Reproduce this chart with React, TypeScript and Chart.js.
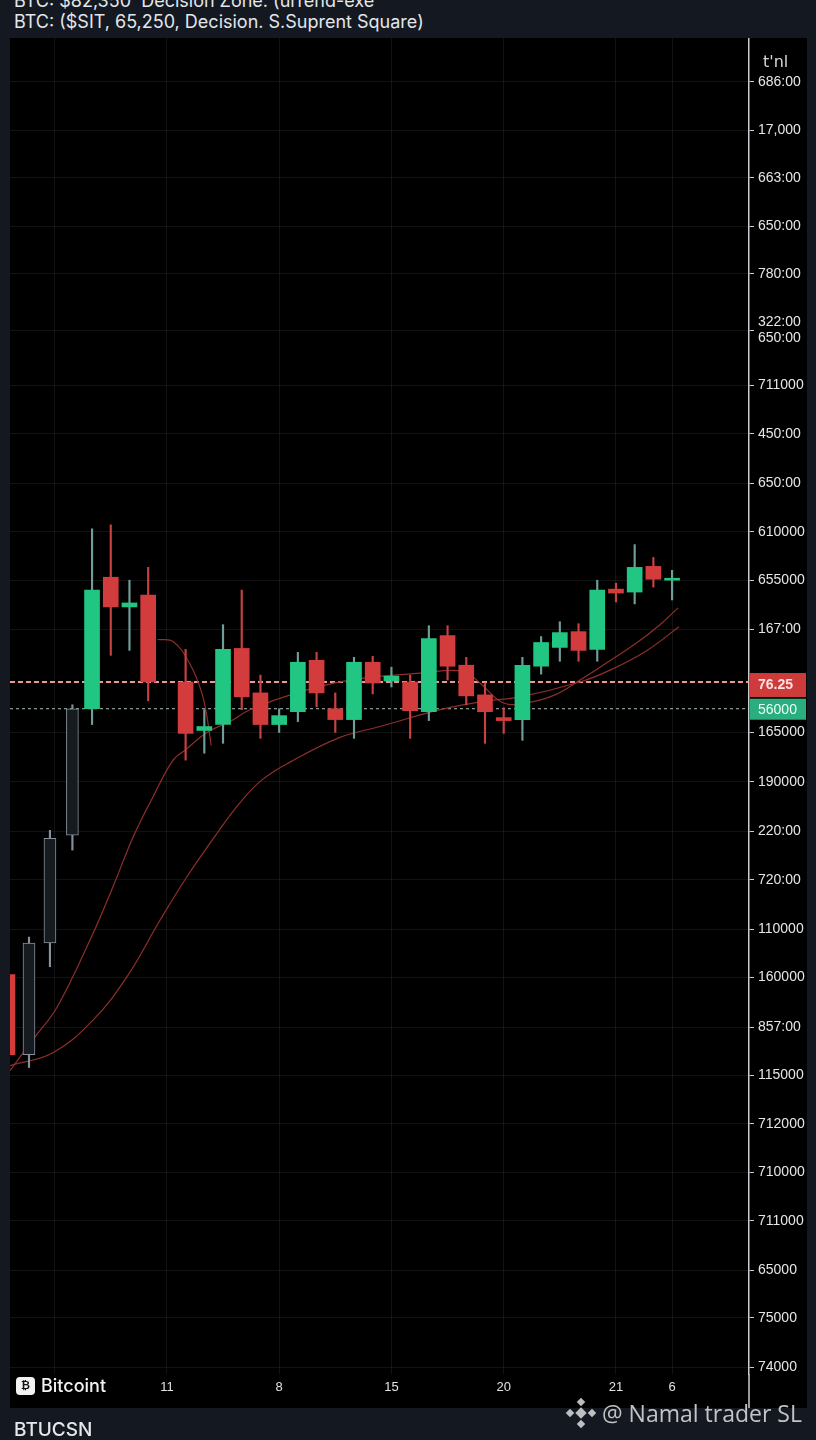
import React, { useEffect, useRef } from "react";
import { Chart, registerables } from "chart.js";

Chart.register(...registerables);

// ---- candle data (x = day slot, prices) ----
const candleSlots = [-0.52, 0.63, 1.75, 2.95, 4, 5, 6, 7, 9, 10, 11, 12, 13, 14, 15, 16, 17, 18, 19, 20, 21, 22, 23, 24, 25, 26, 27, 28, 29, 30, 31, 32, 33, 34, 35];
const opens = [55970, 55160, 56290, 57380, 58660, 59990, 59690, 59810, 58930, 58440, 58500, 59270, 58820, 58500, 58630, 59150, 58660, 58550, 59130, 58940, 58930, 58630, 59400, 59100, 58800, 58570, 58550, 59090, 59280, 59440, 59260, 59870, 59840, 60100, 59960];
const highs = [56000, 56350, 57430, 58700, 60480, 60520, 59960, 60090, 59260, 58650, 59510, 59860, 59000, 58660, 59230, 59230, 58820, 59180, 59190, 59080, 59000, 59500, 59500, 59180, 58920, 58670, 59180, 59390, 59540, 59520, 59960, 59930, 60320, 60190, 60060];
const lows = [55000, 55030, 56050, 57230, 58500, 59200, 59250, 58740, 58140, 58210, 58310, 58650, 58360, 58420, 58530, 58680, 58420, 58360, 58810, 58880, 58360, 58540, 58950, 58700, 58310, 58410, 58340, 59010, 59140, 59140, 59140, 59740, 59720, 59890, 59760];
const closes = [55160, 56290, 57350, 58660, 59860, 59690, 59730, 58930, 58410, 58480, 59260, 58780, 58500, 58590, 59130, 58820, 58550, 59130, 58920, 58990, 58640, 59370, 59090, 58790, 58630, 58540, 59100, 59330, 59430, 59250, 59860, 59830, 60090, 59970, 59980];
const hollowCandles = [1, 2, 3];

// ---- moving averages ----
const fastMaSlots = [-0.385, 0.95, 2.13, 3.89, 5.12, 6.19, 7.26, 8.33, 8.97, 10.14, 11.37, 12.44, 15.1, 17.79, 21.53, 23.83, 24.73, 25.96, 27.25, 28.74, 30.08, 31.31, 33.13, 34.35, 35.32];
const fastMaValues = [55000, 55340, 55640, 56320, 56860, 57360, 57770, 58140, 58240, 58420, 58530, 58650, 58830, 58950, 59020, 59040, 58920, 58720, 58720, 58800, 58950, 59100, 59330, 59510, 59680];
const slowMaSlots = [-0.385, 1.91, 4.05, 5.87, 7.63, 9.07, 10.68, 11.91, 13.08, 14.58, 17.25, 19.39, 22.6, 24.74, 26.87, 30.08, 31.68, 33.66, 35.37];
const slowMaValues = [55050, 55180, 55510, 55950, 56520, 56960, 57400, 57710, 57940, 58120, 58370, 58480, 58650, 58730, 58780, 58930, 59050, 59250, 59490];
const spikeSlots = [7.5, 8.33, 9.24, 9.88, 10.2, 10.36];
const spikeValues = [59360, 59340, 59110, 58810, 58510, 58290];

// ---- levels ----
const resistanceLevel = 58930;
const supportLevel = 58660;
const resistanceLabel = "76.25";
const supportLabel = "56000";

// ---- axes ----
const yTickValues = [65000, 64510, 64030, 63540, 63060, 62490, 61930, 61440, 60940, 60450, 59960, 59460, 58420, 57920, 57420, 56930, 56430, 55940, 55440, 54950, 54460, 53970, 53480, 52980, 52500, 52000];
const yTickLabels: (string | string[])[] = ["686:00", "17,000", "663:00", "650:00", "780:00", ["322:00", "650:00"], "711000", "450:00", "650:00", "610000", "655000", "167:00", "165000", "190000", "220:00", "720:00", "110000", "160000", "857:00", "115000", "712000", "710000", "711000", "65000", "75000", "74000"];
const yAxisTitle = "t'nl";
const xTickSlots = [2, 8, 14, 20, 26, 32, 35];
const xTickLabels = ["", "11", "8", "15", "20", "21", "6"];
const xMin = -0.385;
const xMax = 39.11;
const yMin = 51930;
const yMax = 65445;

const GREEN = "#22c683";
const RED = "#d23c3c";
const GREEN_WICK = "#6f9d99";
const RED_WICK = "#c94141";
const HOLLOW_EDGE = "#86909a";
const MA_COLOR = "#8e2f2b";
const AXIS = "#c9cdd2";
const TICK_FONT = "'Liberation Sans', Arial, sans-serif";

const decorPlugin = {
  id: "decor",
  beforeDraw(chart: any) {
    const { ctx, chartArea } = chart;
    const ys = chart.scales.y;
    const xs = chart.scales.x;
    ctx.save();
    ctx.fillStyle = "#000000";
    ctx.fillRect(chartArea.left, chartArea.top, ys.right - chartArea.left, xs.bottom - chartArea.top);
    ctx.restore();
  },
  afterDraw(chart: any) {
    const { ctx, chartArea } = chart;
    const ys = chart.scales.y;
    const xs = chart.scales.x;
    ctx.save();
    ctx.strokeStyle = AXIS;
    ctx.lineWidth = 1.5;
    ctx.beginPath();
    ctx.moveTo(ys.left, chartArea.bottom);
    ctx.lineTo(ys.left, xs.bottom);
    ctx.stroke();

    const rY = ys.getPixelForValue(resistanceLevel);
    const gY = ys.getPixelForValue(supportLevel);
    ctx.fillStyle = "#cf3a3a";
    ctx.fillRect(ys.left + 1, rY - 9, ys.right - ys.left - 2, 24);
    ctx.fillStyle = "#2aae80";
    ctx.fillRect(ys.left + 1, gY - 10, ys.right - ys.left - 2, 21);
    ctx.font = "bold 14px " + TICK_FONT;
    ctx.textBaseline = "middle";
    ctx.textAlign = "left";
    ctx.fillStyle = "#ffe3e3";
    ctx.fillText(resistanceLabel, ys.left + 9, rY + 3);
    ctx.font = "14px " + TICK_FONT;
    ctx.fillStyle = "#eafff6";
    ctx.fillText(supportLabel, ys.left + 9, gY + 1);

    ctx.font = "16px 'DejaVu Sans', sans-serif";
    ctx.fillStyle = "#d5d5d5";
    ctx.fillText(yAxisTitle, ys.left + 14, chartArea.top + 25);
    ctx.restore();
  },
};

export default function App() {
  const canvasRef = useRef<HTMLCanvasElement | null>(null);

  useEffect(() => {
    document.body.style.background = "#141820";
    const canvas = canvasRef.current;
    if (!canvas) return;

    const up = (i: number) => closes[i] >= opens[i];
    const isHollow = (i: number) => hollowCandles.includes(i);

    const wickData = candleSlots.map((s, i) => ({ x: s, y: [lows[i], highs[i]], i }));
    const solidData = candleSlots
      .map((s, i) => ({ x: s, y: [opens[i], closes[i]], i }))
      .filter((d) => !isHollow(d.i));
    const hollowData = candleSlots
      .map((s, i) => ({ x: s, y: [opens[i], closes[i]], i }))
      .filter((d) => isHollow(d.i));

    const toPts = (xs: number[], ys: number[]) => xs.map((x, k) => ({ x, y: ys[k] }));

    const chart = new Chart(canvas, {
      type: "bar",
      data: {
        datasets: [
          {
            type: "line",
            label: "resistance",
            data: [{ x: xMin, y: resistanceLevel }, { x: xMax, y: resistanceLevel }],
            borderColor: "rgba(250,160,160,0.95)",
            borderWidth: 2,
            borderDash: [5, 3],
            pointRadius: 0,
            clip: 0,
            order: 5,
          } as any,
          {
            type: "line",
            label: "support",
            data: [{ x: xMin, y: supportLevel }, { x: xMax, y: supportLevel }],
            borderColor: "rgba(200,225,210,0.85)",
            borderWidth: 1,
            borderDash: [3, 3],
            pointRadius: 0,
            clip: 0,
            order: 5,
          } as any,
          {
            type: "line",
            label: "fast MA",
            data: toPts(fastMaSlots, fastMaValues),
            borderColor: MA_COLOR,
            borderWidth: 1.2,
            tension: 0.4,
            pointRadius: 0,
            clip: 0,
            order: 4,
          } as any,
          {
            type: "line",
            label: "slow MA",
            data: toPts(slowMaSlots, slowMaValues),
            borderColor: MA_COLOR,
            borderWidth: 1.2,
            tension: 0.4,
            pointRadius: 0,
            clip: 0,
            order: 4,
          } as any,
          {
            type: "line",
            label: "spike",
            data: toPts(spikeSlots, spikeValues),
            borderColor: MA_COLOR,
            borderWidth: 1.2,
            tension: 0.4,
            pointRadius: 0,
            clip: 0,
            order: 4,
          } as any,
          {
            label: "wicks",
            data: wickData as any,
            barThickness: 1.5,
            grouped: false,
            backgroundColor: (c: any) => {
              const i = c.raw ? c.raw.i : 0;
              if (isHollow(i)) return HOLLOW_EDGE;
              return up(i) ? GREEN_WICK : RED_WICK;
            },
            borderWidth: 0,
            clip: 0,
            order: 3,
          } as any,
          {
            label: "hollow bodies",
            data: hollowData as any,
            barThickness: 12,
            grouped: false,
            backgroundColor: "#161b20",
            borderColor: HOLLOW_EDGE,
            borderWidth: 1,
            borderSkipped: false,
            clip: 0,
            order: 2,
          } as any,
          {
            label: "bodies",
            data: solidData as any,
            barThickness: 15,
            grouped: false,
            backgroundColor: (c: any) => (c.raw && up(c.raw.i) ? GREEN : RED),
            borderWidth: 0,
            clip: 0,
            order: 1,
          } as any,
        ],
      },
      options: {
        animation: false,
        responsive: false,
        layout: { padding: { left: 10, top: 38, right: 9, bottom: 32 } },
        plugins: { legend: { display: false }, tooltip: { enabled: false }, title: { display: false } },
        scales: {
          x: {
            type: "linear",
            min: xMin,
            max: xMax,
            offset: false,
            grid: { offset: false, color: "rgba(255,255,255,0.07)", drawTicks: false },
            border: { display: false },
            afterBuildTicks: (scale: any) => {
              scale.ticks = xTickSlots.map((v) => ({ value: v }));
            },
            afterFit: (scale: any) => {
              scale.height = 34;
            },
            ticks: {
              autoSkip: false,
              maxRotation: 0,
              padding: 6,
              color: "#e2e2e2",
              font: { family: TICK_FONT, size: 13 },
              callback: (v: any) => {
                const k = xTickSlots.indexOf(Number(v));
                return k >= 0 ? xTickLabels[k] : "";
              },
            },
          },
          y: {
            type: "linear",
            position: "right",
            min: yMin,
            max: yMax,
            beginAtZero: false,
            grid: {
              color: "rgba(255,255,255,0.07)",
              drawTicks: true,
              tickLength: 5,
              tickColor: AXIS,
              tickWidth: 1,
            },
            border: { display: true, color: AXIS, width: 1.5 },
            afterBuildTicks: (scale: any) => {
              scale.ticks = yTickValues.map((v) => ({ value: v }));
            },
            afterFit: (scale: any) => {
              scale.width = 58;
            },
            ticks: {
              autoSkip: false,
              padding: 4,
              color: "#e6e6e6",
              font: { family: TICK_FONT, size: 14, lineHeight: 1.1 },
              callback: (v: any) => {
                const k = yTickValues.indexOf(Number(v));
                return k >= 0 ? (yTickLabels[k] as any) : "";
              },
            },
          },
        },
      },
      plugins: [decorPlugin],
    });

    return () => chart.destroy();
  }, []);

  const headerText: React.CSSProperties = {
    position: "absolute",
    left: 14,
    fontFamily: "Inter, 'Open Sans', sans-serif",
    fontSize: 18,
    lineHeight: "22px",
    color: "#e3e6ea",
    whiteSpace: "nowrap",
  };

  return (
    <div
      style={{
        position: "absolute",
        left: 0,
        top: 0,
        width: 816,
        height: 1440,
        overflow: "hidden",
        background: "#141820",
      }}
    >
      <canvas
        ref={canvasRef}
        width={816}
        height={1440}
        style={{ position: "absolute", left: 0, top: 0, width: 816, height: 1440, display: "block" }}
      />
      <div
        style={{
          position: "absolute",
          left: 0,
          top: 0,
          width: 816,
          height: 38,
          background: "#141820",
          overflow: "hidden",
          zIndex: 2,
        }}
      >
        <div style={{ ...headerText, top: -10 }}>BTC: $82,350&nbsp; Decision Zone: (urrend-exe</div>
        <div style={{ ...headerText, top: 11 }}>BTC: ($SIT, 65,250, Decision. S.Suprent Square)</div>
      </div>
      <div
        style={{
          position: "absolute",
          left: 16,
          top: 1376,
          display: "flex",
          alignItems: "center",
          zIndex: 2,
        }}
      >
        <div
          style={{
            width: 19,
            height: 18,
            borderRadius: 4,
            background: "#f2f2f2",
            color: "#111",
            fontSize: 11,
            fontWeight: 700,
            lineHeight: "18px",
            textAlign: "center",
            fontFamily: "'DejaVu Sans', sans-serif",
          }}
        >
          ₿
        </div>
        <div
          style={{
            marginLeft: 6,
            fontFamily: "Inter, 'Open Sans', sans-serif",
            fontSize: 18,
            fontWeight: 500,
            color: "#f2f2f2",
            lineHeight: "20px",
          }}
        >
          Bitcoint
        </div>
      </div>
      <div
        style={{
          position: "absolute",
          left: 14,
          top: 1418,
          fontFamily: "Inter, 'Open Sans', sans-serif",
          fontSize: 19,
          fontWeight: 500,
          color: "#e6e8ec",
          lineHeight: "24px",
          zIndex: 2,
        }}
      >
        BTUCSN
      </div>
      <div
        style={{
          position: "absolute",
          left: 566,
          top: 1397,
          display: "flex",
          alignItems: "center",
          zIndex: 2,
          opacity: 0.88,
        }}
      >
        <div style={{ position: "relative", width: 30, height: 30 }}>
          {[
            [15, 4],
            [4, 15],
            [26, 15],
            [15, 26],
            [15, 15],
          ].map(([cx, cy], k) => (
            <div
              key={k}
              style={{
                position: "absolute",
                left: cx - (k === 4 ? 4 : 3),
                top: cy - (k === 4 ? 4 : 3),
                width: k === 4 ? 8 : 6,
                height: k === 4 ? 8 : 6,
                background: "#d6d6d6",
                transform: "rotate(45deg)",
              }}
            />
          ))}
        </div>
        <div
          style={{
            marginLeft: 6,
            fontFamily: "'Open Sans', 'Noto Sans', sans-serif",
            fontSize: 23,
            color: "#dcdcdc",
            lineHeight: "32px",
            whiteSpace: "nowrap",
          }}
        >
          @ Namal trader SL
        </div>
      </div>
    </div>
  );
}
